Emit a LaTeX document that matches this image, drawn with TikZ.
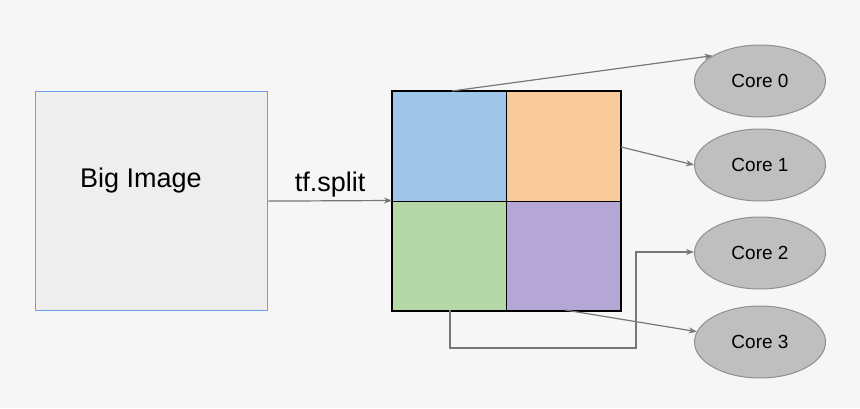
\documentclass[tikz,border=0pt]{standalone}
\usepackage{fontspec}
\setmainfont{Liberation Sans}
\usetikzlibrary{shapes.geometric,arrows.meta}
\definecolor{bg}{HTML}{F6F6F6}
\definecolor{boxfill}{HTML}{EEEEEE}
\definecolor{boxline}{HTML}{6D9EEB}
\definecolor{cblue}{HTML}{9FC5E8}
\definecolor{corange}{HTML}{F9CB9C}
\definecolor{cgreen}{HTML}{B6D7A8}
\definecolor{cpurple}{HTML}{B4A7D6}
\definecolor{corefill}{HTML}{BFBFBF}
\definecolor{coreline}{HTML}{8F8F8F}
\definecolor{arr}{HTML}{777777}
\begin{document}
\begin{tikzpicture}[x=1pt,y=-1pt,
  cell/.style={draw=black,line width=1.2pt,minimum width=114pt,minimum height=109.5pt,inner sep=0pt,anchor=north west},
  core/.style={ellipse,draw=coreline,fill=corefill,line width=1pt,minimum width=131pt,minimum height=72pt,inner sep=0pt,font=\fontsize{19}{22}\selectfont},
  conn/.style={draw=arr,line width=1.2pt,-{Stealth[length=8pt,width=6pt]}}]
\fill[bg] (0,0) rectangle (860,408);
\useasboundingbox (0,0) rectangle (860,408);
\node[draw=boxline,fill=boxfill,line width=1.2pt,minimum width=232pt,minimum height=219pt,inner sep=0pt,anchor=north west] (big) at (35,91) {};
\node[font=\fontsize{27}{30}\selectfont] (bigt) at (141,181) {Big Image};
\node[cell,fill=cblue] (c0) at (392,91) {};
\node[cell,fill=corange] (c1) at (506,91) {};
\node[cell,fill=cgreen] (c2) at (392,200.5) {};
\node[cell,fill=cpurple] (c3) at (506,200.5) {};
\draw[black,line width=1.2pt] (c0.north west) rectangle (c3.south east);
\node[core] (k0) at (760,81) {Core 0};
\node[core] (k1) at (760,165) {Core 1};
\node[core] (k2) at (760,253) {Core 2};
\node[core] (k3) at (760,342) {Core 3};
\draw[conn] (big.east) -- node[above,font=\fontsize{27}{30}\selectfont,inner sep=3pt] (lbl) {tf.split} (c2.north west);
\coordinate (s0) at (452,91);
\coordinate (s1) at (c1.east |- 0,147);
\coordinate (s2) at (450,310);
\coordinate (s3) at (565,310);
\coordinate (b2) at (450,348);
\coordinate (b2r) at (636,348);
\coordinate (b2u) at (636,252);
\draw[conn] (s0) -- (k0.152);
\draw[conn] (s1) -- (k1.west);
\draw[conn] (s2) -- (b2) -- (b2r) -- (b2u) -- (k2.west |- b2u);
\draw[conn] (s3) -- (k3);
\end{tikzpicture}
\end{document}
